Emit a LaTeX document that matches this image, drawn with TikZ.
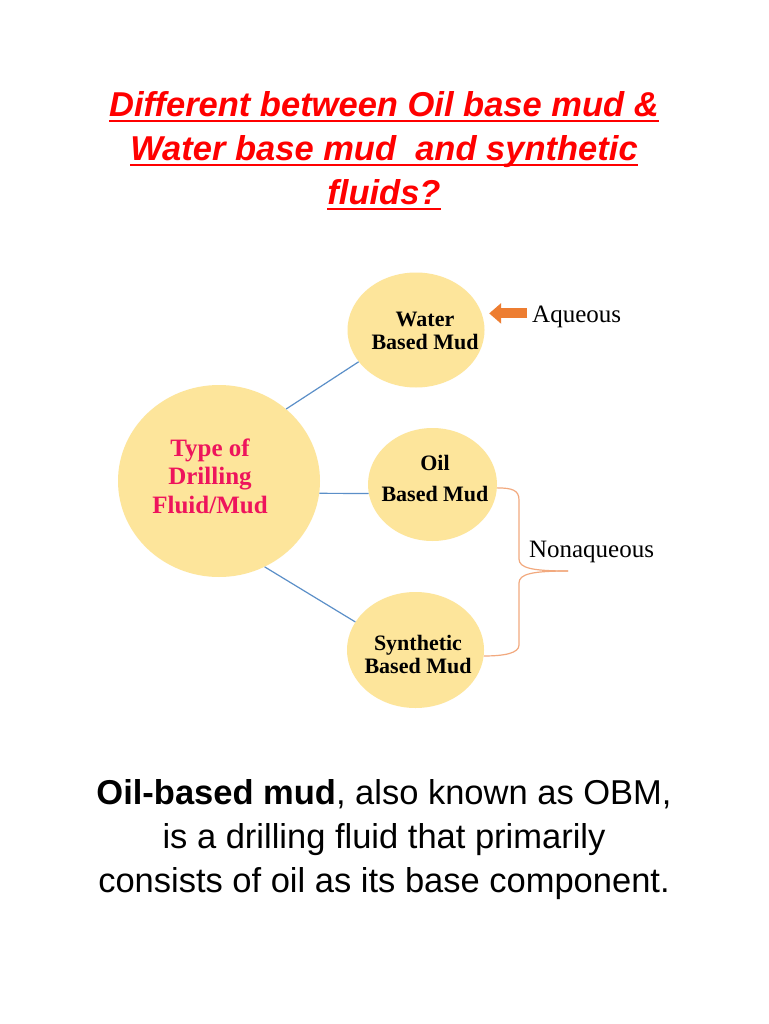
\documentclass[tikz,border=0pt]{standalone}
\usepackage{fontspec}
\setmainfont{Liberation Serif}
\setsansfont{Liberation Sans}
\usepackage{xcolor}
\usepackage{tikz}
\usetikzlibrary{arrows.meta,shapes.geometric}
\definecolor{mudfill}{HTML}{FDE59B}
\definecolor{titlered}{HTML}{FF0000}
\definecolor{typepink}{HTML}{EE145C}
\definecolor{linkblue}{HTML}{5B8FC8}
\definecolor{braceorange}{HTML}{F2A97E}
\definecolor{arroworange}{HTML}{ED7D31}

\begin{document}
\begin{tikzpicture}[
    x=1pt, y=-1pt,
    mud/.style={ellipse, fill=mudfill, inner sep=0pt},
    mudtext/.style={align=center, inner sep=0pt, font=\bfseries\fontsize{22}{23}\selectfont},
    title/.style={anchor=base, inner sep=0pt, text=titlered, font=\sffamily\bfseries\itshape\fontsize{34.5}{43}\selectfont},
    uline/.style={draw=titlered, line width=2.7pt},
    note/.style={anchor=base, inner sep=0pt, font=\sffamily\fontsize{34.5}{43}\selectfont},
    side/.style={inner sep=0pt, font=\fontsize{25}{28}\selectfont},
    link/.style={draw=linkblue, line width=1.2pt},
    brace/.style={draw=braceorange, line width=1.2pt},
    aqarrow/.style={-{Triangle[length=12pt,width=20pt]}, draw=arroworange, line width=10pt}
]
\useasboundingbox[fill=white] (0,0) rectangle (768,1024);

% Title
\node[title] (title1) at (384,117) {Different between Oil base mud \&};
\node[title] (title2) at (384,161) {Water base mud~ and synthetic};
\node[title] (title3) at (384,205) {fluids?};
\foreach \t in {title1,title2,title3}
  \draw[uline] ([yshift=-4pt]\t.base west) -- ([yshift=-4pt]\t.base east);

% Nodes
\node[mud, minimum width=202pt, minimum height=192pt] (type) at (219,481) {};
\node[mud, minimum width=137pt, minimum height=115pt] (water) at (416,330) {};
\node[mud, minimum width=129pt, minimum height=113pt] (oil) at (432.5,484.5) {};
\node[mud, minimum width=137pt, minimum height=116pt] (synth) at (415.5,650) {};

\node[mudtext, text=typepink, font=\bfseries\fontsize{25}{28.5}\selectfont] (typetxt) at (210,476) {Type of\\Drilling\\Fluid/Mud};
\node[mudtext] (watertxt) at (425,331) {Water\\Based Mud};
\node[mudtext] (oiltxt) at (435,478) {Oil\\[8pt]Based Mud};
\node[mudtext] (synthtxt) at (418,654) {Synthetic\\Based Mud};

\node[side, anchor=base west] (aq) at (532,322) {Aqueous};
\node[side, anchor=base] (nonaq) at (591.5,557) {Nonaqueous};
\coordinate (tip) at (568,571);

% Connectors
\draw[link] (type.47) -- (water.209);
\draw[link] (type.-7) -- (oil.188);
\draw[link] (type.-62) -- (synth.155);
\draw[aqarrow, shorten <=5pt, shorten >=4.5pt] ([yshift=3pt]aq.west) -- ([yshift=3pt]aq.west -| water.east);
\draw[brace] (oil.-3) .. controls (512,488) and (519,490) .. (519,500) -- (519,559)
    .. controls (519,568) and (532,571) .. (tip);
\draw[brace] (tip) .. controls (532,571) and (519,574) .. (519,583) -- (519,645)
    .. controls (519,653) and (505,656) .. (synth.-5);

% Text below
\node[note] (note1) at (384,804) {\textbf{Oil-based mud}, also known as OBM,};
\node[note] (note2) at (384,848) {is a drilling fluid that primarily};
\node[note] (note3) at (384,892) {consists of oil as its base component.};

\end{tikzpicture}
\end{document}
